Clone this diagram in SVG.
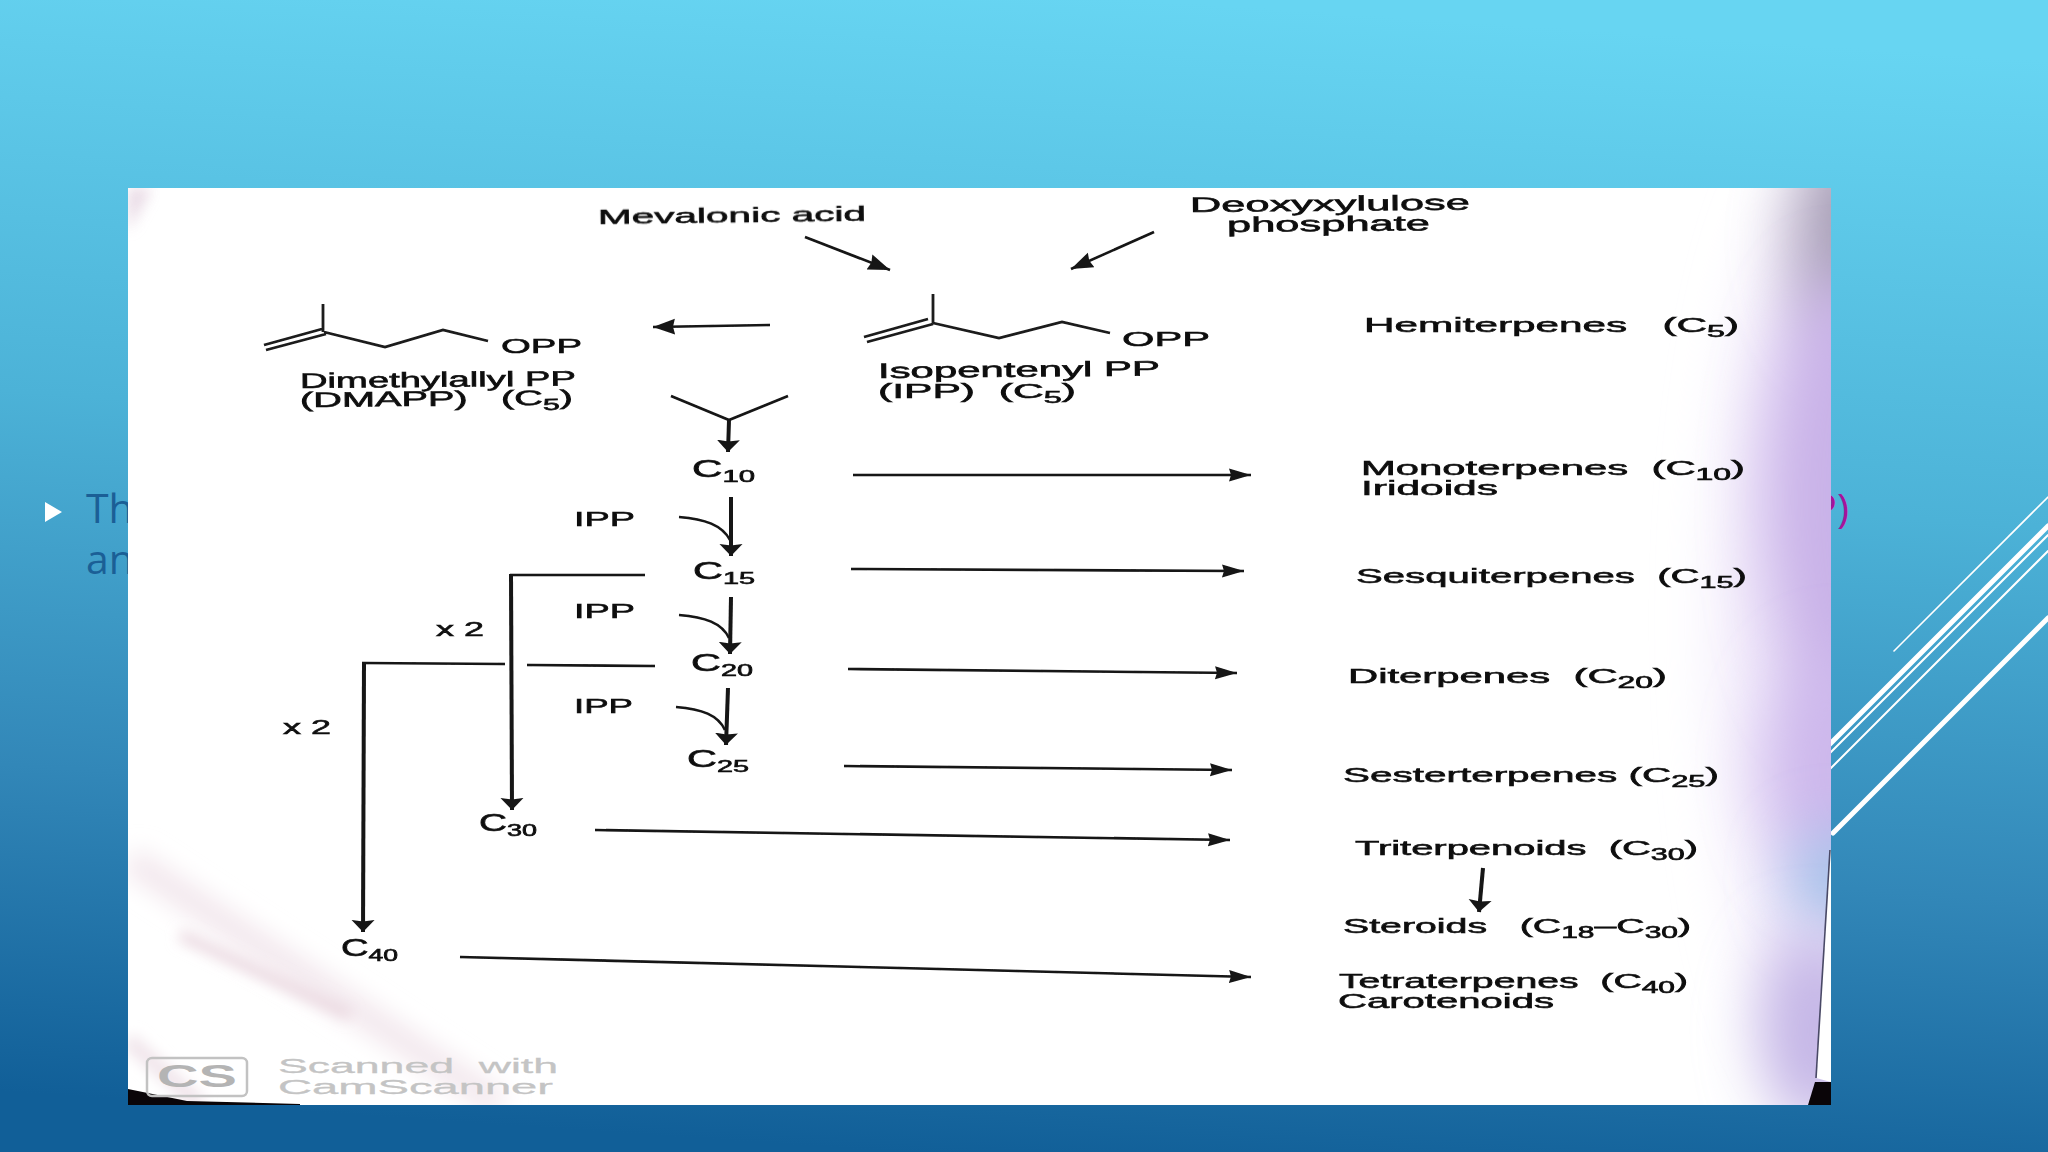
<svg xmlns="http://www.w3.org/2000/svg" width="2048" height="1152" viewBox="0 0 2048 1152">
<style>
text{font-family:"Liberation Sans",Arial,sans-serif;white-space:pre}
.t{font-size:21px;fill:#111;stroke:#111;stroke-width:.6}
.s{font-size:16px}
.c{font-size:23px}
.l{fill:none;stroke:#141414;stroke-linecap:butt}
.h{stroke-width:2.6}
.v{stroke-width:4}
.m{fill:none;stroke:#1a1a1a;stroke-width:2.8}
.deco{stroke:#fff;fill:none;stroke-linecap:round}
.bg{font-family:"Open Sans",sans-serif;font-weight:400;font-size:41px}
.wm{fill:#c4c4c4;font-size:21px;stroke:#c4c4c4;stroke-width:.3}
</style>
<defs>
<linearGradient id="bgG" x1="0.56" y1="0" x2="0.44" y2="1">
<stop offset="0" stop-color="#67d5f2"/><stop offset="0.4" stop-color="#4cb2d7"/><stop offset="0.72" stop-color="#3287b8"/><stop offset="1" stop-color="#115f98"/>
</linearGradient>
<clipPath id="paper"><rect x="128" y="188" width="1703" height="917"/></clipPath>
<filter id="b30" x="-100%" y="-100%" width="300%" height="300%"><feGaussianBlur stdDeviation="30"/></filter>
<filter id="b15" x="-60%" y="-60%" width="220%" height="220%"><feGaussianBlur stdDeviation="12"/></filter>
<filter id="b10" x="-30%" y="-30%" width="160%" height="160%"><feGaussianBlur stdDeviation="7"/></filter>
<filter id="soft" x="0" y="0" width="2048" height="1152" filterUnits="userSpaceOnUse"><feGaussianBlur stdDeviation="0.55"/></filter>
<marker id="hr" markerUnits="userSpaceOnUse" markerWidth="24" markerHeight="16" refX="22" refY="8" orient="auto"><path d="M0 1.5L22 8L0 14.5L2 8Z" fill="#141414"/></marker>
<marker id="hd" markerUnits="userSpaceOnUse" markerWidth="14" markerHeight="26" refX="12" refY="13" orient="auto"><path d="M0 1.5L12 13L0 24.5L1.5 13Z" fill="#141414"/></marker>
<marker id="hs" markerUnits="userSpaceOnUse" markerWidth="24" markerHeight="20" refX="22" refY="10" orient="auto"><path d="M0 2L22 10L0 18L2 10Z" fill="#141414"/></marker>
</defs>

<rect id="background" width="2048" height="1152" fill="url(#bgG)"/>
<g id="decoration">
<path class="deco" stroke-width="1.6" d="M1894 651L2048 497"/>
<path class="deco" stroke-width="5" d="M1825 749L2048 526"/>
<path class="deco" stroke-width="2" d="M1825 758L2048 535"/>
<path class="deco" stroke-width="2" d="M1825 774L2048 551"/>
<path class="deco" stroke-width="5" d="M1833 833L2048 618"/>
</g>
<g id="slide-text">
<path d="M45 502L62 512L45 522Z" fill="#fff"/>
<text class="bg" x="86" y="523" fill="#1b5f96">Th</text>
<text class="bg" x="86" y="574" fill="#1b5f96">an</text>
<text class="bg" x="1849" y="523" text-anchor="end" fill="#a6129a">P)</text>
</g>

<g id="scan">
<rect x="128" y="188" width="1703" height="917" fill="#fff"/>
<g clip-path="url(#paper)">
<path d="M128 188H152L128 232Z" fill="#e6d6e2" filter="url(#b10)" opacity=".9"/>
<ellipse cx="1835" cy="620" rx="115" ry="470" fill="#f0e8fa" filter="url(#b30)"/>
<ellipse cx="1850" cy="240" rx="55" ry="110" fill="#a79fb6" filter="url(#b30)"/>
<ellipse cx="1845" cy="500" rx="80" ry="230" fill="#c9b2e8" filter="url(#b30)"/>
<ellipse cx="1845" cy="770" rx="80" ry="120" fill="#cdb8ec" filter="url(#b30)"/>
<ellipse cx="1840" cy="880" rx="50" ry="50" fill="#a4c3ea" filter="url(#b30)"/>
<ellipse cx="1815" cy="1030" rx="55" ry="100" fill="#c4b6e6" filter="url(#b30)"/>
<path d="M130 860L500 1105" stroke="#f2e6ec" stroke-width="26" fill="none" filter="url(#b15)"/>
<path d="M180 935L350 1015" stroke="#e8d4dd" stroke-width="10" fill="none" filter="url(#b10)"/>
<path d="M128 1040L200 1105" stroke="#f0e4ea" stroke-width="16" fill="none" filter="url(#b10)"/>
<path d="M1830 850L1816 1078L1831 1082V850Z" fill="#fff"/>
<path d="M1830 850L1816 1078" stroke="#4a4a66" stroke-width="1.6" fill="none" filter="url(#soft)"/>
<path d="M1815 1082H1831V1105H1808Z" fill="#0a0508"/>
<path d="M128 1089L187 1101L300 1104V1105H128Z" fill="#0a0508"/>
</g>
</g>

<g id="watermark">
<rect x="147" y="1058" width="100" height="38" rx="5" fill="none" stroke="#c2c2c2" stroke-width="2.5"/>
<text x="157" y="1087" font-size="31" font-weight="700" fill="#b4b4b4" textLength="80" lengthAdjust="spacingAndGlyphs">CS</text>
<text class="wm" x="278" y="1073" textLength="280" lengthAdjust="spacingAndGlyphs">Scanned  with</text>
<text class="wm" x="278" y="1094" textLength="275" lengthAdjust="spacingAndGlyphs">CamScanner</text>
</g>

<g id="diagram" filter="url(#soft)">
<g id="connectors">
<path class="l h" marker-end="url(#hs)" d="M805 237L890 270"/>
<path class="l h" marker-end="url(#hs)" d="M1154 232L1071 269"/>
<path class="l h" marker-end="url(#hs)" d="M770 325L653 327"/>
<path class="l h" d="M671 396L729 420L788 396"/>
<path class="l v" marker-end="url(#hd)" d="M729 420L728 452"/>
<path class="l v" marker-end="url(#hd)" d="M731 497V556"/>
<path class="l h" d="M679 517C705 519 722 525 730 540"/>
<path class="l v" marker-end="url(#hd)" d="M731 597L730 654"/>
<path class="l h" d="M679 615C705 617 722 623 729 638"/>
<path class="l v" marker-end="url(#hd)" d="M728 688L726 745"/>
<path class="l h" d="M676 707C702 709 718 715 725 730"/>
<path class="l h" d="M645 575H510"/>
<path class="l v" marker-end="url(#hd)" d="M511 574L512 810"/>
<path class="l h" d="M655 666L527 665"/>
<path class="l h" d="M505 664L362 663"/>
<path class="l v" marker-end="url(#hd)" d="M364 662L363 932"/>
<path class="l h" marker-end="url(#hr)" d="M853 475L1251 475"/>
<path class="l h" marker-end="url(#hr)" d="M851 569L1244 571"/>
<path class="l h" marker-end="url(#hr)" d="M848 669L1237 673"/>
<path class="l h" marker-end="url(#hr)" d="M844 766L1232 770"/>
<path class="l h" marker-end="url(#hr)" d="M595 830L1230 840"/>
<path class="l h" marker-end="url(#hr)" d="M460 957L900 968L1251 977"/>
<path class="l v" marker-end="url(#hd)" d="M1483 868L1479 912"/>
</g>

<g id="node-mevalonic"><text class="t" x="598" y="224" textLength="268" lengthAdjust="spacingAndGlyphs" transform="rotate(-0.7 598 224)">Mevalonic acid</text></g>
<g id="node-deoxy">
<text class="t" x="1190" y="212" textLength="280" lengthAdjust="spacingAndGlyphs" transform="rotate(-0.5 1190 212)">Deoxyxylulose</text>
<text class="t" x="1227" y="232" textLength="203" lengthAdjust="spacingAndGlyphs" transform="rotate(-0.5 1227 232)">phosphate</text>
</g>
<g id="node-dmapp">
<path class="m" d="M323 304V332M264 345L322 329M266 350L326 334M324 332L385 347L443 330L488 341"/>
<text class="t" x="501" y="353" textLength="81" lengthAdjust="spacingAndGlyphs">OPP</text>
<text class="t" x="300" y="388" textLength="276" lengthAdjust="spacingAndGlyphs" transform="rotate(-0.5 300 388)">Dimethylallyl PP</text>
<text class="t" x="300" y="407" textLength="273" lengthAdjust="spacingAndGlyphs" transform="rotate(-0.5 300 407)">(DMAPP)   (C<tspan class="s" dy="5">5</tspan><tspan dy="-5">)</tspan></text>
</g>
<g id="node-ipp">
<path class="m" d="M933 294V323M864 337L928 319M867 342L933 324M933 323L999 338L1062 322L1110 333"/>
<text class="t" x="1122" y="346" textLength="88" lengthAdjust="spacingAndGlyphs">OPP</text>
<text class="t" x="878" y="378" textLength="282" lengthAdjust="spacingAndGlyphs" transform="rotate(-0.5 878 378)">Isopentenyl PP</text>
<text class="t" x="878" y="398" textLength="198" lengthAdjust="spacingAndGlyphs">(IPP)  (C<tspan class="s" dy="5">5</tspan><tspan dy="-5">)</tspan></text>
</g>

<g id="node-c10"><text class="t c" x="692" y="477" textLength="63" lengthAdjust="spacingAndGlyphs">C<tspan class="s" dy="5">10</tspan></text></g>
<g id="node-c15"><text class="t c" x="693" y="579" textLength="62" lengthAdjust="spacingAndGlyphs">C<tspan class="s" dy="5">15</tspan></text></g>
<g id="node-c20"><text class="t c" x="691" y="671" textLength="62" lengthAdjust="spacingAndGlyphs">C<tspan class="s" dy="5">20</tspan></text></g>
<g id="node-c25"><text class="t c" x="687" y="767" textLength="62" lengthAdjust="spacingAndGlyphs">C<tspan class="s" dy="5">25</tspan></text></g>
<g id="node-c30"><text class="t c" x="479" y="831" textLength="58" lengthAdjust="spacingAndGlyphs">C<tspan class="s" dy="5">30</tspan></text></g>
<g id="node-c40"><text class="t c" x="341" y="956" textLength="57" lengthAdjust="spacingAndGlyphs">C<tspan class="s" dy="5">40</tspan></text></g>
<g id="label-ipp1"><text class="t" x="574" y="526" textLength="61" lengthAdjust="spacingAndGlyphs">IPP</text></g>
<g id="label-ipp2"><text class="t" x="574" y="618" textLength="61" lengthAdjust="spacingAndGlyphs">IPP</text></g>
<g id="label-ipp3"><text class="t" x="574" y="713" textLength="59" lengthAdjust="spacingAndGlyphs">IPP</text></g>
<g id="label-x2a"><text class="t" x="436" y="636" textLength="48" lengthAdjust="spacingAndGlyphs">x 2</text></g>
<g id="label-x2b"><text class="t" x="283" y="734" textLength="48" lengthAdjust="spacingAndGlyphs">x 2</text></g>

<g id="node-hemi"><text class="t" x="1364" y="332" textLength="375" lengthAdjust="spacingAndGlyphs">Hemiterpenes   (C<tspan class="s" dy="5">5</tspan><tspan dy="-5">)</tspan></text></g>
<g id="node-mono">
<text class="t" x="1361" y="475" textLength="384" lengthAdjust="spacingAndGlyphs">Monoterpenes  (C<tspan class="s" dy="5">10</tspan><tspan dy="-5">)</tspan></text>
<text class="t" x="1361" y="495" textLength="137" lengthAdjust="spacingAndGlyphs">Iridoids</text>
</g>
<g id="node-sesqui"><text class="t" x="1356" y="583" textLength="391" lengthAdjust="spacingAndGlyphs">Sesquiterpenes  (C<tspan class="s" dy="5">15</tspan><tspan dy="-5">)</tspan></text></g>
<g id="node-di"><text class="t" x="1348" y="683" textLength="319" lengthAdjust="spacingAndGlyphs">Diterpenes  (C<tspan class="s" dy="5">20</tspan><tspan dy="-5">)</tspan></text></g>
<g id="node-sester"><text class="t" x="1343" y="782" textLength="376" lengthAdjust="spacingAndGlyphs">Sesterterpenes (C<tspan class="s" dy="5">25</tspan><tspan dy="-5">)</tspan></text></g>
<g id="node-tri"><text class="t" x="1355" y="855" textLength="343" lengthAdjust="spacingAndGlyphs">Triterpenoids  (C<tspan class="s" dy="5">30</tspan><tspan dy="-5">)</tspan></text></g>
<g id="node-steroids"><text class="t" x="1343" y="933" textLength="348" lengthAdjust="spacingAndGlyphs">Steroids   (C<tspan class="s" dy="5">18</tspan><tspan dy="-5">–C</tspan><tspan class="s" dy="5">30</tspan><tspan dy="-5">)</tspan></text></g>
<g id="node-tetra">
<text class="t" x="1339" y="988" textLength="349" lengthAdjust="spacingAndGlyphs">Tetraterpenes  (C<tspan class="s" dy="5">40</tspan><tspan dy="-5">)</tspan></text>
<text class="t" x="1338" y="1008" textLength="216" lengthAdjust="spacingAndGlyphs">Carotenoids</text>
</g>
</g>
</svg>
